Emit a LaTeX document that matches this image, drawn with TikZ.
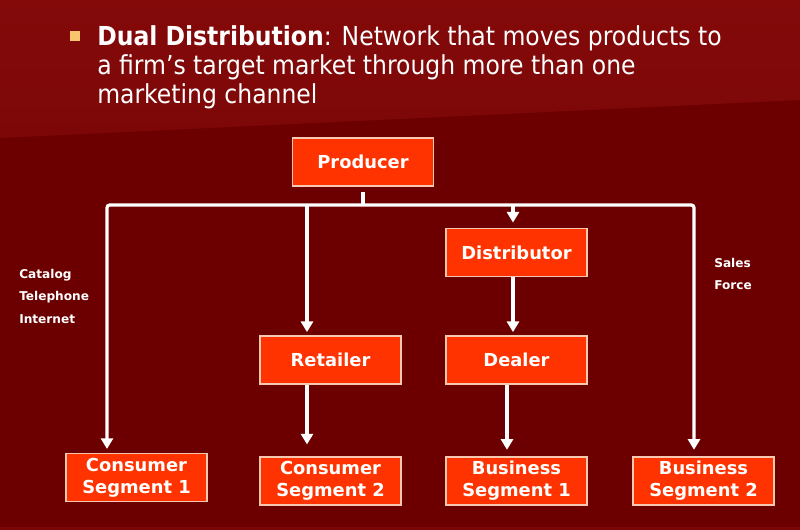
\documentclass[tikz,border=0pt]{standalone}
\usepackage{fontspec}
\setmainfont{DejaVu Sans}
\newfontfamily\condfont{DejaVu Sans Condensed}
\usetikzlibrary{arrows.meta}
\definecolor{bgdark}{HTML}{6C0000}
\definecolor{bgtop}{HTML}{840A0A}
\definecolor{boxfill}{HTML}{FF3300}
\definecolor{boxline}{HTML}{F6C8B0}
\definecolor{bullet}{HTML}{F7C56E}
\tikzset{
  stepbox/.style={draw=boxline, line width=0.8pt, fill=boxfill, text=white,
    font=\bfseries\fontsize{13.4}{16.5}\selectfont, align=center,
    minimum width=105.75pt, minimum height=36pt, inner sep=0pt},
  conn/.style={draw=white, line width=2.4pt},
  arr/.style={conn, -{Triangle[width=9pt,length=8pt]}},
  sidelabel/.style={text=white, font=\bfseries\fontsize{9.1}{16.5}\selectfont, align=left, inner sep=0pt},
  titleline/.style={anchor=base west, text=white, inner sep=0pt,
    font=\condfont\fontsize{19.6}{21.75}\selectfont}
}
\begin{document}
\begin{tikzpicture}[x=0.75pt,y=-0.75pt]
\useasboundingbox (0,0) rectangle (800,530);
\fill[bgdark] (0,0) rectangle (800,530);
\shade[top color=bgtop, bottom color=bgtop!70!bgdark] (0,0) -- (800,0) -- (800,100) -- (0,138) -- cycle;
\fill[bgtop!60!bgdark] (0,527) rectangle (800,530);
% title
\fill[bullet] (70,31) rectangle (80,41);
\node[titleline] (t1) at (97,46) {\textbf{Dual Distribution}: Network that moves products to};
\node[titleline] (t2) at (97,75) {a firm’s target market through more than one};
\node[titleline] (t3) at (97,104) {marketing channel};
% boxes
\node[stepbox] (prod) at (363,162) {Producer};
\node[stepbox] (dist) at (516.5,252.5) {Distributor};
\node[stepbox] (ret) at (330.5,360) {Retailer};
\node[stepbox] (deal) at (516.5,360) {Dealer};
\node[stepbox] (cs1) at (136.5,477.5) {Consumer\\Segment 1};
\node[stepbox] (cs2) at (330.5,481) {Consumer\\Segment 2};
\node[stepbox] (bs1) at (516.5,481) {Business\\Segment 1};
\node[stepbox] (bs2) at (703.5,481) {Business\\Segment 2};
% side labels
\node[sidelabel, anchor=west] (cat) at (19,275) {Catalog};
\node[sidelabel, anchor=west] (tel) at (19,297) {Telephone};
\node[sidelabel, anchor=west] (inet) at (19,319) {Internet};
\node[sidelabel, anchor=west] (sales) at (714,263) {Sales};
\node[sidelabel, anchor=west] (force) at (714,285) {Force};
% junctions
\coordinate (jP) at (363,205);
\coordinate (jL) at (107,205);
\coordinate (jR) at (694,205);
\coordinate (jRet) at (307,205);
\coordinate (jD) at (513,205);
\coordinate (xDeal) at (507,205);
% connectors
\draw[conn, shorten <=4pt] (prod.south) -- (jP);
\draw[arr, rounded corners=2pt, shorten >=3pt] (jP) -- (jL) -- (jL |- cs1.north);
\draw[arr, rounded corners=2pt, shorten >=5pt] (jP) -- (jR) -- (jR |- bs2.north);
\draw[arr, shorten >=2.5pt] (jRet) -- (jRet |- ret.north);
\draw[arr, shorten >=4pt] (jD) -- (jD |- dist.north);
\draw[arr, shorten >=2.5pt] (dist.south -| jD) -- (jD |- deal.north);
\draw[arr, shorten >=9pt] (ret.south -| jRet) -- (jRet |- cs2.north);
\draw[arr, shorten >=5pt] (deal.south -| xDeal) -- (xDeal |- bs1.north);
\end{tikzpicture}
\end{document}
